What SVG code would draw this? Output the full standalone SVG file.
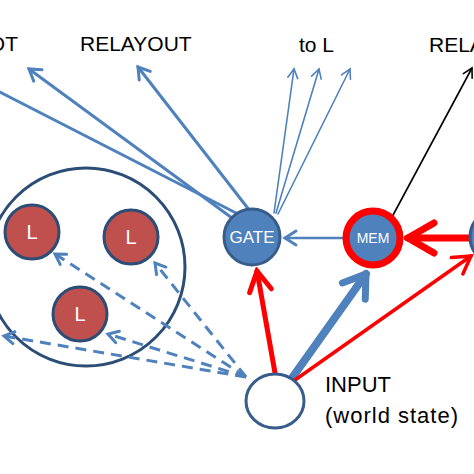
<svg xmlns="http://www.w3.org/2000/svg" width="474" height="474" viewBox="0 0 474 474">
<style>
text{font-family:"Liberation Sans",Arial,sans-serif}
.lbl{font-size:21px;fill:#000}
.lbl2{font-size:22px;fill:#000}
.ntx{fill:#fff;text-anchor:middle}
.blue{stroke:#4f81bd;fill:none;stroke-linecap:round}
.red{stroke:#ff0000;fill:none;stroke-linecap:round}
.dash{stroke:#4f81bd;stroke-width:3;fill:none;stroke-dasharray:11 7}
.lnode{fill:#c0504d;stroke:#2c4d75;stroke-width:3}
.bnode{fill:#4f81bd;stroke:#385d8a;stroke-width:3}
</style>
<defs>
<marker id="mb" viewBox="-16 -10 20 20" markerWidth="20" markerHeight="20" markerUnits="userSpaceOnUse" refX="0" refY="0" orient="auto"><path d="M-11,-7 L0,0 L-11,7" fill="none" stroke="#4f81bd" stroke-width="3" stroke-linecap="round"/></marker>
<marker id="mt" viewBox="-16 -10 20 20" markerWidth="20" markerHeight="20" markerUnits="userSpaceOnUse" refX="0" refY="0" orient="auto"><path d="M-9,-5 L0,0 L-9,5" fill="none" stroke="#4f81bd" stroke-width="1.6" stroke-linecap="round"/></marker>
<marker id="mk" viewBox="-16 -10 20 20" markerWidth="20" markerHeight="20" markerUnits="userSpaceOnUse" refX="0" refY="0" orient="auto"><path d="M-9,-5 L0,0 L-9,5" fill="none" stroke="#000" stroke-width="1.6" stroke-linecap="round"/></marker>
<marker id="mrb" viewBox="-36 -20 40 40" markerWidth="40" markerHeight="40" markerUnits="userSpaceOnUse" refX="0" refY="0" orient="auto"><path d="M-26,-15 L0,0 L-26,15" fill="none" stroke="#ff0000" stroke-width="7" stroke-linecap="round"/></marker>
<marker id="mr" viewBox="-30 -20 34 40" markerWidth="34" markerHeight="40" markerUnits="userSpaceOnUse" refX="0" refY="0" orient="auto"><path d="M-20,-11 L0,0 L-20,11" fill="none" stroke="#ff0000" stroke-width="5" stroke-linecap="round"/></marker>
<marker id="mrt" viewBox="-30 -20 34 40" markerWidth="34" markerHeight="40" markerUnits="userSpaceOnUse" refX="0" refY="0" orient="auto"><path d="M-17,-10 L0,0 L-17,10" fill="none" stroke="#ff0000" stroke-width="3.5" stroke-linecap="round"/></marker>
<marker id="mbt" viewBox="-30 -20 34 40" markerWidth="34" markerHeight="40" markerUnits="userSpaceOnUse" refX="0" refY="0" orient="auto"><path d="M-21,-14 L0,0 L-21,14" fill="none" stroke="#4f81bd" stroke-width="7" stroke-linecap="round"/></marker>
<marker id="md" viewBox="-16 -10 20 20" markerWidth="20" markerHeight="20" markerUnits="userSpaceOnUse" refX="0" refY="0" orient="auto"><path d="M-10,-6 L0,0 L-10,6" fill="none" stroke="#4f81bd" stroke-width="3" stroke-linecap="round"/></marker>
</defs>

<g id="labels">
<text class="lbl" x="18" y="51" text-anchor="end">OT</text>
<text class="lbl" x="80" y="51">RELAYOUT</text>
<text class="lbl" x="299" y="52">to L</text>
<text class="lbl" x="429" y="52">RELAYOUT</text>
<text class="lbl2" x="325" y="392">INPUT</text>
<text class="lbl2" x="325" y="423" textLength="133">(world state)</text>
</g>

<g id="group-circle"><circle cx="86" cy="267" r="99" fill="none" stroke="#2c4d75" stroke-width="3"/></g>

<g id="connectors">
<line class="blue" stroke-width="3" x1="-10" y1="87" x2="238" y2="214"/>
<line class="blue" stroke-width="3" x1="232" y1="218" x2="29" y2="69" marker-end="url(#mb)"/>
<line class="blue" stroke-width="3" x1="250" y1="211" x2="138" y2="67" marker-end="url(#mb)"/>
<line class="blue" stroke-width="1.6" x1="274" y1="213" x2="294" y2="69" marker-end="url(#mt)"/>
<line class="blue" stroke-width="1.6" x1="276" y1="213" x2="319" y2="69" marker-end="url(#mt)"/>
<line class="blue" stroke-width="1.6" x1="278" y1="214" x2="350" y2="69" marker-end="url(#mt)"/>
<line stroke="#000" stroke-width="1.6" x1="392" y1="217" x2="472" y2="68" marker-end="url(#mk)"/>
<line class="blue" stroke-width="2.5" x1="344" y1="238" x2="285" y2="238" marker-end="url(#mb)"/>
<line class="red" stroke-width="7" x1="472" y1="238" x2="408" y2="238" marker-end="url(#mrb)"/>
<line class="red" stroke-width="5" x1="275" y1="373" x2="257" y2="271" marker-end="url(#mr)"/>
<line class="blue" stroke-width="8" x1="292" y1="378" x2="366" y2="274" marker-end="url(#mbt)"/>
<line class="red" stroke-width="3.5" x1="295" y1="380" x2="471" y2="256" marker-end="url(#mrt)"/>
<line class="dash" x1="246" y1="377" x2="55" y2="254" marker-end="url(#md)"/>
<line class="dash" x1="246" y1="377" x2="155" y2="263" marker-end="url(#md)"/>
<line class="dash" x1="246" y1="377" x2="108" y2="334" marker-end="url(#md)"/>
<line class="dash" x1="246" y1="377" x2="4" y2="336" marker-end="url(#md)"/>
</g>

<g id="L1"><circle class="lnode" cx="32" cy="232" r="27"/><text class="ntx" x="32" y="239" font-size="20">L</text></g>
<g id="L2"><circle class="lnode" cx="131" cy="237" r="27"/><text class="ntx" x="131" y="244" font-size="20">L</text></g>
<g id="L3"><circle class="lnode" cx="80" cy="314" r="27"/><text class="ntx" x="80" y="321" font-size="20">L</text></g>
<g id="GATE"><circle class="bnode" cx="252" cy="237" r="28"/><text class="ntx" x="252" y="243" font-size="17">GATE</text></g>
<g id="MEM"><circle cx="373" cy="238" r="27" fill="#4f81bd" stroke="#ff0000" stroke-width="7"/><text class="ntx" x="373" y="243" font-size="14">MEM</text></g>
<g id="RIGHT"><circle class="bnode" cx="498" cy="237" r="28"/></g>
<g id="INPUT"><ellipse cx="275" cy="401" rx="29" ry="27" fill="#fff" stroke="#385d8a" stroke-width="3"/></g>
</svg>
